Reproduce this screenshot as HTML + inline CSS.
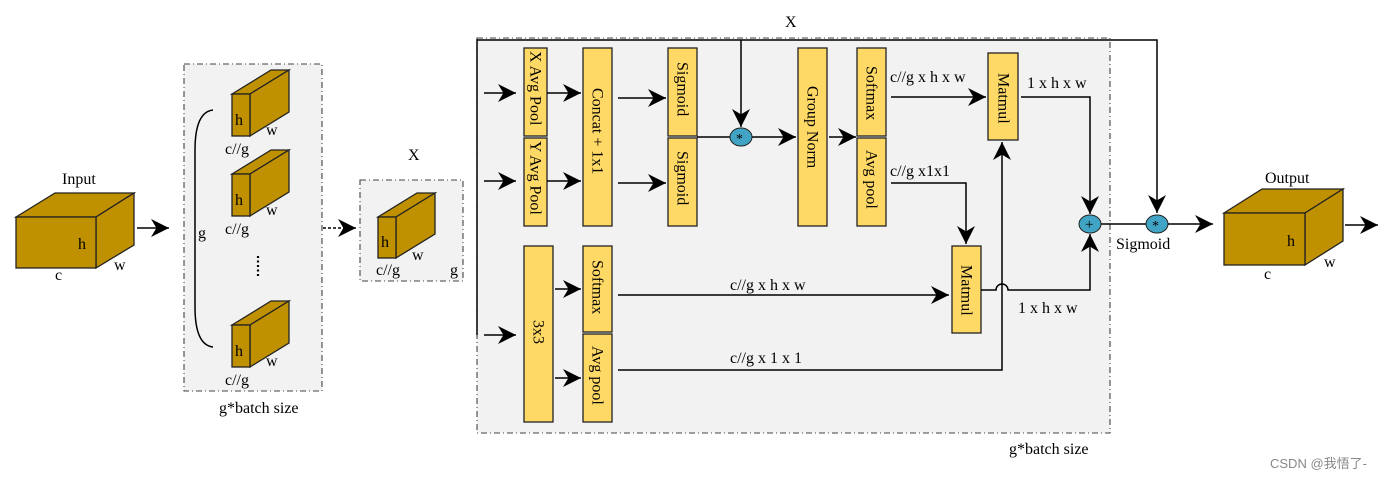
<!DOCTYPE html>
<html><head><meta charset="utf-8"><style>
html,body{margin:0;padding:0;background:#fff;}
svg{display:block;}
text{font-family:"Liberation Serif",serif;font-size:16px;fill:#000;}
.v{writing-mode:tb;glyph-orientation-vertical:90;}
.bx{fill:#ffd966;stroke:#222;stroke-width:1.3;}
.cf{fill:#bf9000;stroke:#222;stroke-width:1.3;}
.ln{stroke:#000;stroke-width:1.5;fill:none;}
.dd{fill:#f2f2f2;stroke:#444;stroke-width:1.1;stroke-dasharray:6 3 1 3;}
</style></head><body>
<svg width="1396" height="480" viewBox="0 0 1396 480" xmlns="http://www.w3.org/2000/svg">
<defs>
<marker id="b" viewBox="0 0 10 10" refX="10" refY="5" markerWidth="18" markerHeight="18" markerUnits="userSpaceOnUse" orient="auto"><path d="M0,0 L10,5 L0,10 L3,5z" fill="#000"/></marker></defs>

<!-- Input cube -->
<polygon class="cf" points="16,217 55,193 134,193 96,217"/>
<polygon class="cf" points="96,217 134,193 134,245 96,268"/>
<rect class="cf" x="16" y="217" width="80" height="51"/>
<text x="62" y="184">Input</text><text x="78" y="249">h</text><text x="114" y="270">w</text><text x="55" y="280">c</text>
<line class="ln" x1="137" y1="228" x2="169" y2="228" marker-end="url(#b)"/>

<!-- group box -->
<rect class="dd" x="184" y="64" width="138" height="327"/>
<path class="ln" d="M213,110 Q195,112 195,150 L195,307 Q195,345 213,347"/>
<text x="198" y="238">g</text>
<g id="sc">
<polygon class="cf" points="232,94 271,70 289,70 250,94"/>
<polygon class="cf" points="250,94 289,70 289,112 250,136"/>
<rect class="cf" x="232" y="94" width="18" height="42"/>
<text x="235" y="125">h</text><text x="266" y="135">w</text><text x="225" y="154">c//g</text>
</g>
<use href="#sc" y="80"/>
<use href="#sc" y="231"/>
<line x1="258" y1="256" x2="258" y2="276" stroke="#000" stroke-width="2.2" stroke-dasharray="2 2.5"/>
<text x="219" y="413">g*batch size</text>
<line class="ln" x1="323" y1="228" x2="356" y2="228" stroke-dasharray="3 2" marker-end="url(#b)"/>

<!-- X box -->
<text x="408" y="160">X</text>
<rect class="dd" x="360" y="180" width="103" height="101"/>
<polygon class="cf" points="378,217 417,193 435,193 396,217"/>
<polygon class="cf" points="396,217 435,193 435,234 396,258"/>
<rect class="cf" x="378" y="217" width="18" height="41"/>
<text x="381" y="247">h</text><text x="412" y="260">w</text><text x="376" y="275">c//g</text><text x="450" y="275">g</text>

<!-- main box -->
<rect class="dd" x="477" y="38" width="633" height="395"/>
<text x="1009" y="454">g*batch size</text>
<text x="785" y="27">X</text>
<polyline class="ln" points="477,335 477,40 1157,40 1157,213" marker-end="url(#b)"/>
<line class="ln" x1="741" y1="40" x2="741" y2="127" marker-end="url(#b)"/>
<line class="ln" x1="484" y1="93" x2="516" y2="93" marker-end="url(#b)"/>
<line class="ln" x1="484" y1="181" x2="516" y2="181" marker-end="url(#b)"/>
<line class="ln" x1="484" y1="335" x2="516" y2="335" marker-end="url(#b)"/>

<rect class="bx" x="524" y="48" width="23" height="88"/><text class="v" x="535" y="51">X Avg Pool</text>
<rect class="bx" x="524" y="138" width="23" height="88"/><text class="v" x="535" y="141">Y Avg Pool</text>
<rect class="bx" x="583" y="48" width="29" height="178"/><text class="v" x="597" y="88">Concat + 1x1</text>
<rect class="bx" x="668" y="48" width="29" height="88"/><text class="v" x="682" y="62">Sigmoid</text>
<rect class="bx" x="668" y="138" width="29" height="88"/><text class="v" x="682" y="151">Sigmoid</text>
<rect class="bx" x="798" y="48" width="29" height="178"/><text class="v" x="812" y="86">Group Norm</text>
<rect class="bx" x="857" y="48" width="29" height="88"/><text class="v" x="871" y="66">Softmax</text>
<rect class="bx" x="857" y="138" width="29" height="88"/><text class="v" x="871" y="150">Avg pool</text>
<rect class="bx" x="988" y="53" width="30" height="87"/><text class="v" x="1003" y="73">Matmul</text>
<rect class="bx" x="952" y="246" width="29" height="87"/><text class="v" x="966" y="265">Matmul</text>
<rect class="bx" x="524" y="246" width="29" height="176"/><text class="v" x="538" y="320">3x3</text>
<rect class="bx" x="583" y="246" width="29" height="86"/><text class="v" x="597" y="260">Softmax</text>
<rect class="bx" x="583" y="334" width="29" height="88"/><text class="v" x="597" y="346">Avg pool</text>

<line class="ln" x1="547" y1="93" x2="581" y2="93" marker-end="url(#b)"/>
<line class="ln" x1="547" y1="181" x2="581" y2="181" marker-end="url(#b)"/>
<line class="ln" x1="618" y1="98" x2="666" y2="98" marker-end="url(#b)"/>
<line class="ln" x1="618" y1="183" x2="666" y2="183" marker-end="url(#b)"/>
<line class="ln" x1="697" y1="137" x2="730" y2="137"/>
<line class="ln" x1="752" y1="137" x2="796" y2="137" marker-end="url(#b)"/>
<line class="ln" x1="829" y1="137" x2="856" y2="137" marker-end="url(#b)"/>
<ellipse cx="741" cy="137" rx="11" ry="9" fill="#41a4c4" stroke="#222"/>
<text x="736" y="143" style="font-size:14px">*</text>

<line class="ln" x1="891" y1="97" x2="986" y2="97" marker-end="url(#b)"/>
<text x="890" y="82">c//g x h x w</text>
<polyline class="ln" points="891,183 966,183 966,244" marker-end="url(#b)"/>
<text x="890" y="176">c//g x1x1</text>
<polyline class="ln" points="1021,97 1090,97 1090,214" marker-end="url(#b)"/>
<text x="1027" y="88">1 x h x w</text>
<path class="ln" d="M981,290 L996,290 A6,6 0 0 1 1008,290 L1090,290 L1090,234" marker-end="url(#b)"/>
<text x="1018" y="313">1 x h x w</text>
<line class="ln" x1="618" y1="295" x2="949" y2="295" marker-end="url(#b)"/>
<text x="730" y="290">c//g x h x w</text>
<polyline class="ln" points="618,370 1002,370 1002,142" marker-end="url(#b)"/>
<text x="730" y="363">c//g  x 1 x 1</text>
<line class="ln" x1="555" y1="289" x2="581" y2="289" marker-end="url(#b)"/>
<line class="ln" x1="555" y1="378" x2="581" y2="378" marker-end="url(#b)"/>

<line class="ln" x1="1101" y1="224" x2="1146" y2="224"/>
<ellipse cx="1090" cy="224" rx="11" ry="9" fill="#41a4c4" stroke="#222"/>
<text x="1085" y="229" style="font-size:15px">+</text>
<ellipse cx="1157" cy="224" rx="11" ry="9" fill="#41a4c4" stroke="#222"/>
<text x="1152" y="230" style="font-size:14px">*</text>
<text x="1116" y="249">Sigmoid</text>
<line class="ln" x1="1168" y1="224" x2="1213" y2="224" marker-end="url(#b)"/>

<!-- Output cube -->
<polygon class="cf" points="1224,213 1262,189 1343,189 1305,213"/>
<polygon class="cf" points="1305,213 1343,189 1343,241 1305,265"/>
<rect class="cf" x="1224" y="213" width="81" height="52"/>
<text x="1265" y="183">Output</text><text x="1287" y="246">h</text><text x="1324" y="267">w</text><text x="1264" y="279">c</text>
<line class="ln" x1="1345" y1="225" x2="1378" y2="225" marker-end="url(#b)"/>

<text x="1270" y="468" style="font-family:'Liberation Sans','Noto Sans CJK SC',sans-serif;font-size:13px;fill:#888">CSDN @我悟了-</text>
</svg>
</body></html>
